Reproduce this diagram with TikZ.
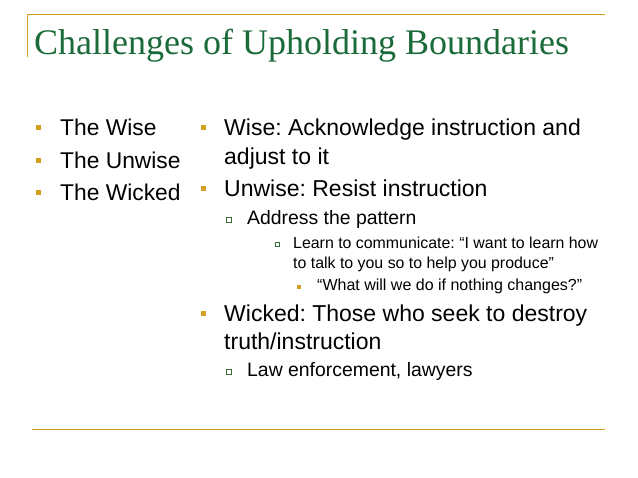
\documentclass[tikz,border=0pt]{standalone}
\usepackage{fontspec}
\setmainfont{Liberation Sans}
\newfontfamily\titlefont{Liberation Serif}
\definecolor{gold}{HTML}{D4A020}
\definecolor{tgreen}{HTML}{1B6B3A}
\definecolor{bgreen}{HTML}{3A6B3A}
\frenchspacing
\begin{document}
\begin{tikzpicture}[x=1pt,y=-1pt,
  txt/.style={anchor=base west,inner sep=0pt},
  fb/.style={fill=gold},
  hb/.style={draw=bgreen,line width=0.7pt,fill=white}]
\useasboundingbox (0,0) rectangle (638,478);
\draw[gold,line width=1pt] (27,57) -- (27,15) -- (605,15);
\draw[gold,line width=1pt] (32,430) -- (605,430);
\node[txt,text=tgreen,font=\titlefont\fontsize{36}{36}\selectfont] (title) at (34,55) {Challenges of Upholding Boundaries};
% left column
\foreach \y/\t [count=\i] in {136/The Wise,169/The Unwise,201/The Wicked}{
  \fill[fb] (36,\y-11) rectangle +(5,5);
  \node[txt,font=\fontsize{22.8}{22.8}\selectfont] (l\i) at (60,\y) {\t};
}
% right column
\begin{scope}[font=\fontsize{23}{23}\selectfont]
\fill[fb] (201,125) rectangle +(5,5);
\node[txt] (r1) at (224,136) {Wise: Acknowledge instruction and};
\node[txt] (r1b) at (224,165) {adjust to it};
\fill[fb] (201,186) rectangle +(5,5);
\node[txt] (r2) at (224,197) {Unwise: Resist instruction};
\end{scope}
\draw[hb] (226,217) rectangle +(5,5);
\node[txt,font=\fontsize{19.4}{19.4}\selectfont] (r3) at (247,225) {Address the pattern};
\draw[hb] (275,242) rectangle +(4,4);
\node[txt,font=\fontsize{15.9}{15.9}\selectfont] (r4) at (293,249) {Learn to communicate: “I want to learn how};
\node[txt,font=\fontsize{15.9}{15.9}\selectfont] (r4b) at (293,269) {to talk to you so to help you produce”};
\fill[fb] (297,285) rectangle +(4,4);
\node[txt,font=\fontsize{16}{16}\selectfont] (r5) at (317,291) {“What will we do if nothing changes?”};
\fill[fb] (201,311) rectangle +(5,5);
\node[txt,font=\fontsize{23}{23}\selectfont] (r6) at (224,322) {Wicked: Those who seek to destroy};
\node[txt,font=\fontsize{23}{23}\selectfont] (r6b) at (224,350) {truth/instruction};
\draw[hb] (226,369) rectangle +(5,5);
\node[txt,font=\fontsize{19.4}{19.4}\selectfont] (r7) at (247,377) {Law enforcement, lawyers};
\end{tikzpicture}
\end{document}
